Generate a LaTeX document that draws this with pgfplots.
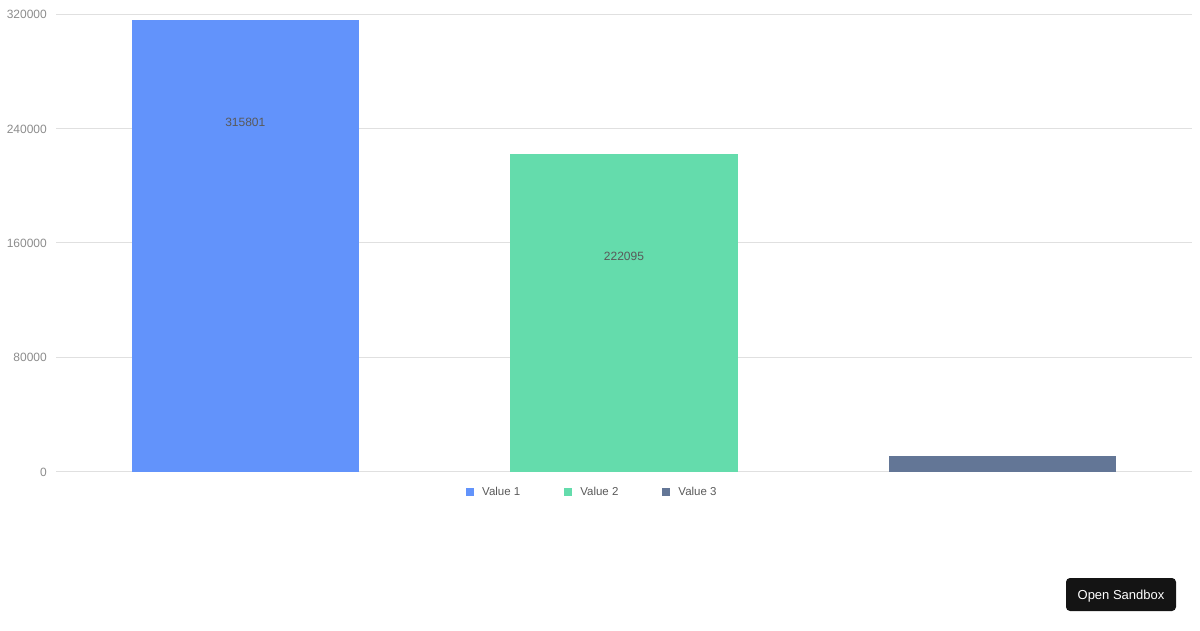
\documentclass[border=0pt]{standalone}
\usepackage{pgfplots}
\pgfplotsset{compat=1.18}
\usepackage{fontspec}
\setmainfont{Liberation Sans}
\definecolor{cA}{RGB}{98,147,251}
\definecolor{cB}{RGB}{100,220,172}
\definecolor{cC}{RGB}{99,118,150}
\definecolor{gridc}{RGB}{224,224,224}
\definecolor{tickc}{RGB}{140,140,140}
\definecolor{labc}{RGB}{89,89,89}
\begin{document}
\begin{tikzpicture}[x=1pt,y=1pt]
\path[use as bounding box] (0,0) rectangle (1200,630);
\begin{axis}[
  at={(56pt,158.5pt)}, anchor=south west,
  scale only axis, width=1136pt, height=457.5pt,
  xmin=-0.5, xmax=2.5, ymin=0, ymax=320000,
  ybar, bar width=0.6,
  axis x line*=bottom, axis y line*=left,
  x axis line style={draw=gridc, line width=1.3pt, -},
  y axis line style={draw=none},
  xtick=\empty,
  ytick={0,80000,160000,240000,320000},
  ymajorgrids, grid style={draw=gridc, line width=0.9pt},
  major tick length=0pt,
  scaled y ticks=false,
  /pgf/number format/.cd, fixed, precision=0, set thousands separator={}, assume math mode=true, 
  /pgfplots/.cd,
  yticklabel style={font=\fontsize{12}{14}\selectfont, text=tickc, anchor=east, inner sep=0pt, xshift=-9pt, yshift=-0.5pt},
  clip=false,
  legend columns=3,
  legend image code/.code={\fill[#1] (0pt,-4pt) rectangle (8pt,4pt);},
  legend style={at={(axis description cs:0.3609,-0.0448)}, anchor=west, draw=none, fill=none, inner sep=0pt,
    font=\fontsize{11.5}{13}\selectfont, text=labc, column sep=8pt,
    /tikz/every even column/.append style={column sep=44pt},
    nodes={inner sep=0pt, anchor=west}},
  every node near coord/.style={anchor=center, yshift=-102pt, font=\fontsize{12}{14}\selectfont, text=labc},
]
\addplot[fill=cA, draw=none, bar shift=0pt, nodes near coords] coordinates {(0,315801)};
\addplot[fill=cB, draw=none, bar shift=0pt, nodes near coords] coordinates {(1,222095)};
\addplot[fill=cC, draw=none, bar shift=0pt] coordinates {(2,10800)};
\legend{Value 1,Value 2,Value 3}
\end{axis}
\fill[black!92, rounded corners=4pt] (1066,19) rectangle (1176,52);
\node[text=white, font=\fontsize{13}{15}\selectfont] at (1121,34) {Open Sandbox};
\end{tikzpicture}
\end{document}
